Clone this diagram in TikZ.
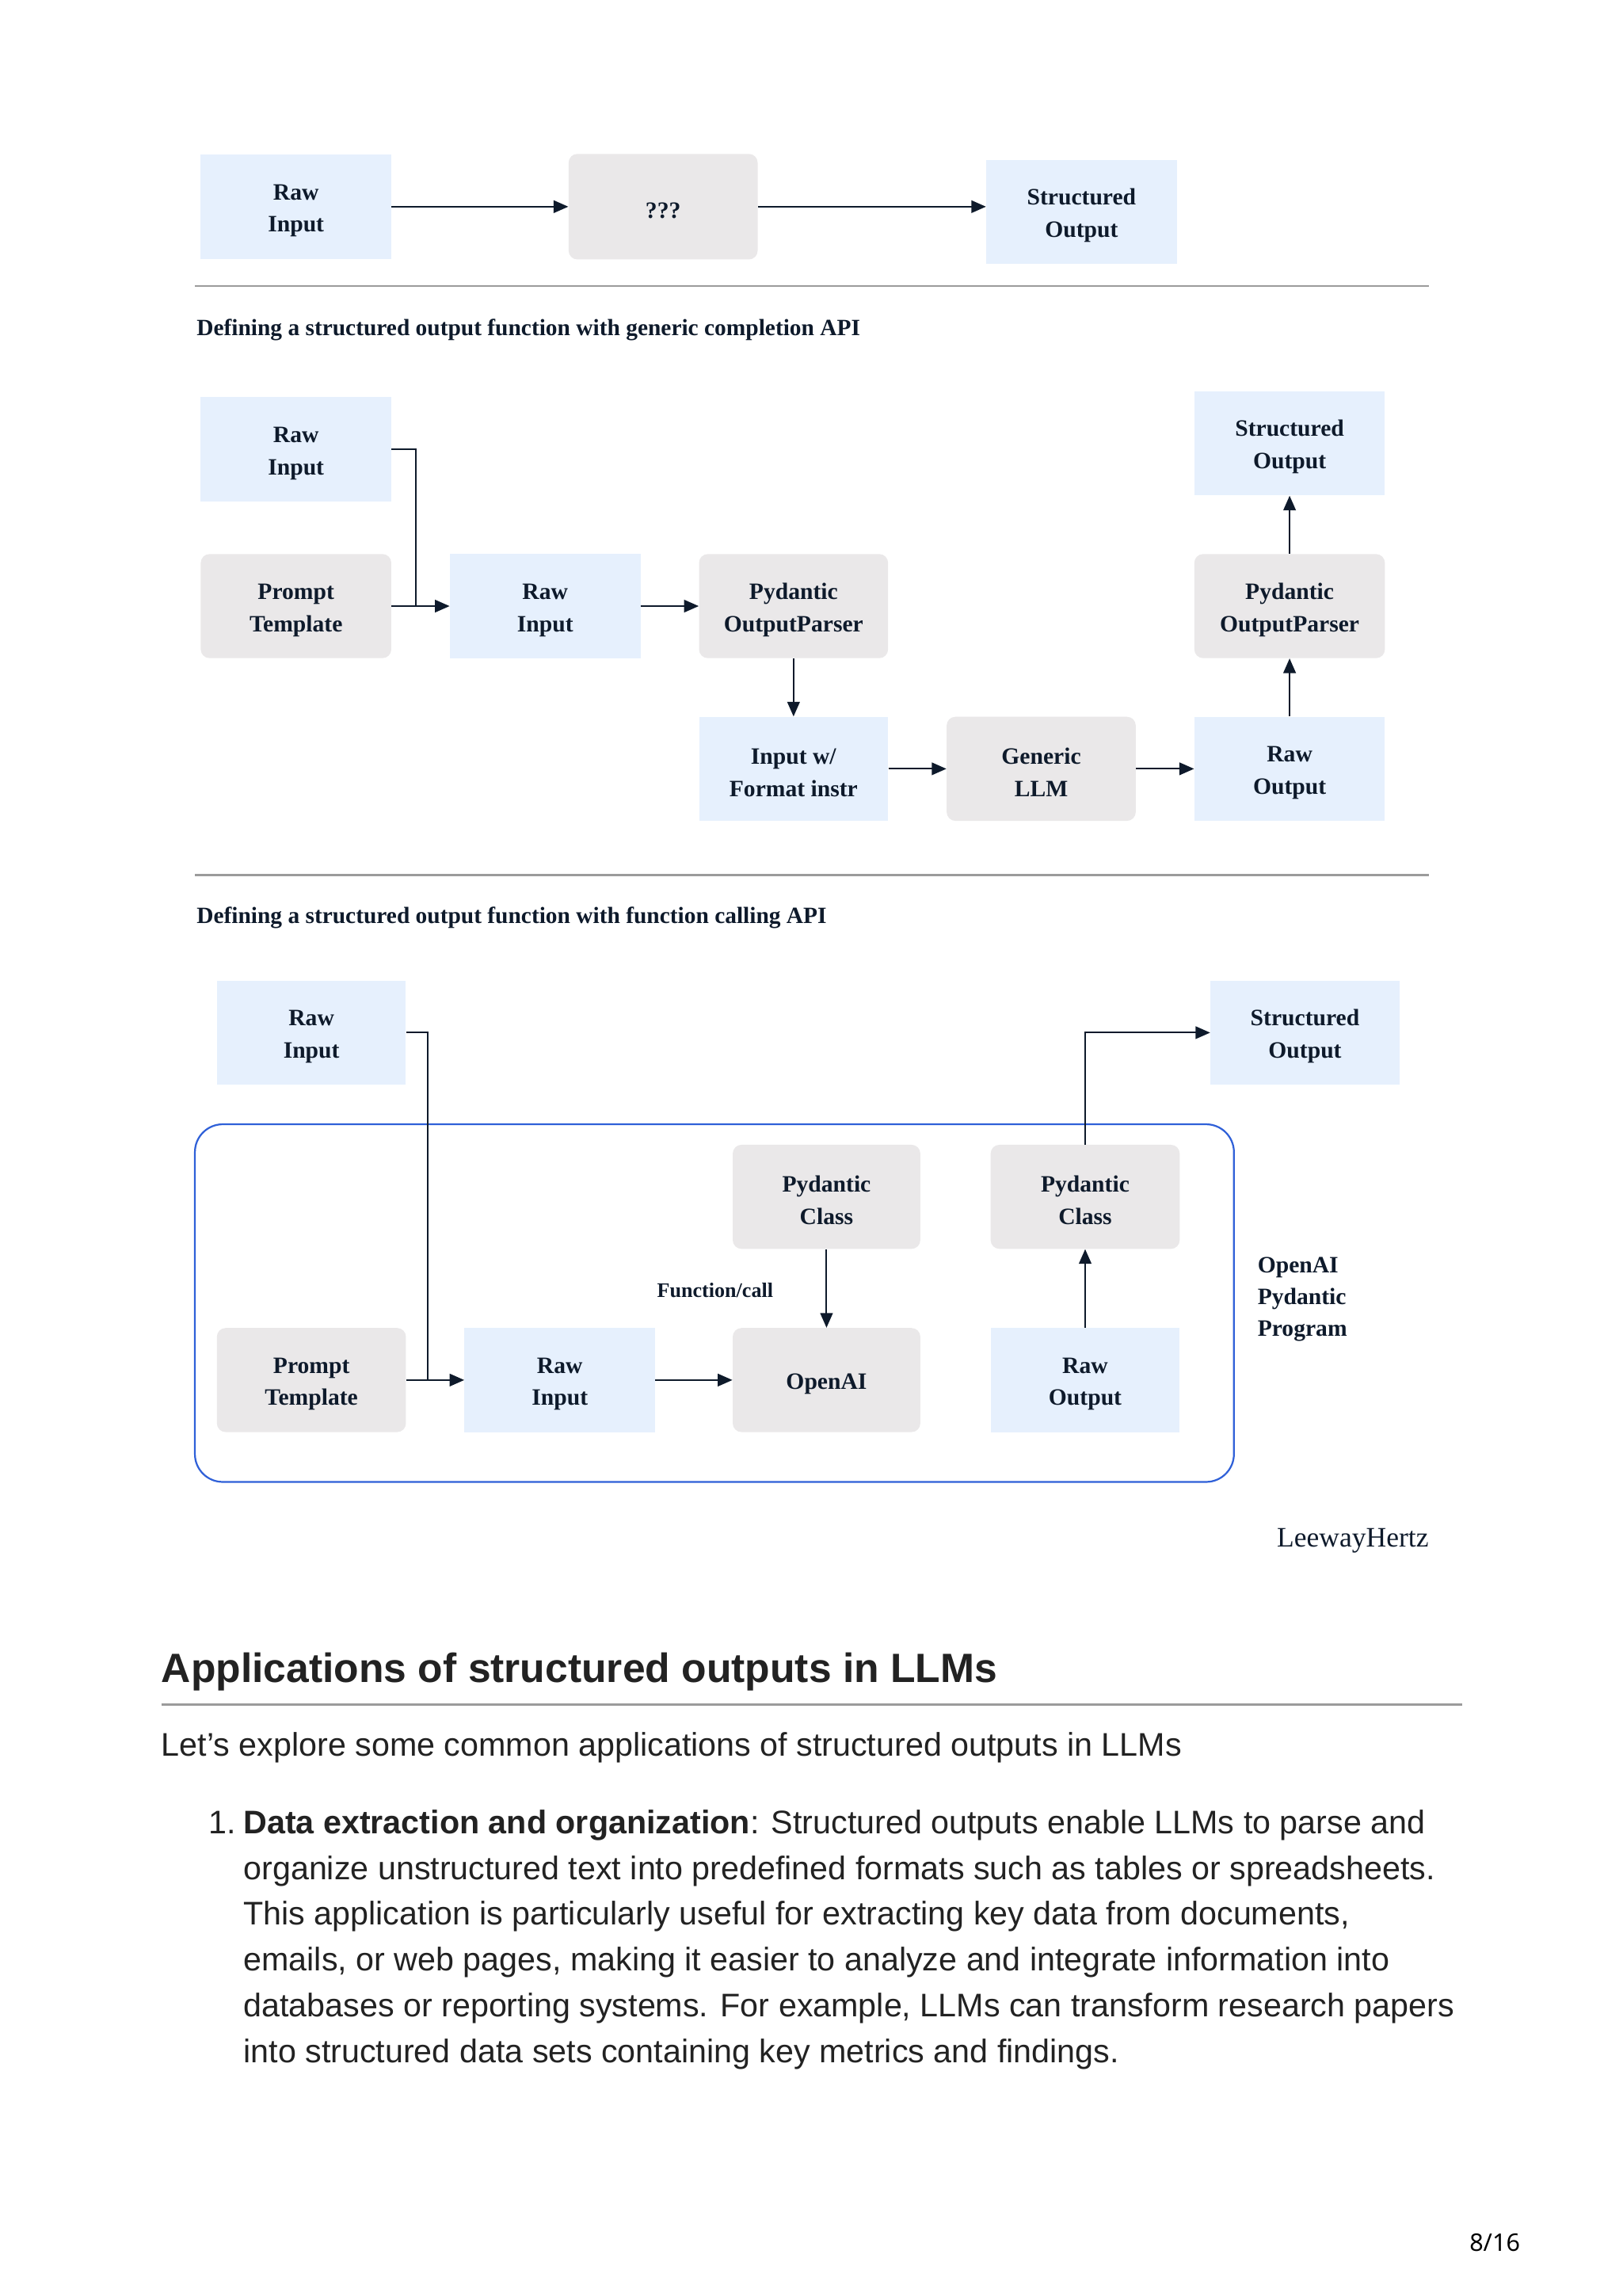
\documentclass[tikz,border=0pt]{standalone}
\usepackage{fontspec}
\setmainfont{Liberation Serif}
\newfontfamily\sansf{Liberation Sans}
\newfontfamily\numf{Noto Sans}
\usetikzlibrary{arrows.meta}
\definecolor{bluefill}{RGB}{230,240,253}
\definecolor{grayfill}{RGB}{234,232,233}
\definecolor{ink}{RGB}{14,26,43}
\definecolor{framblue}{RGB}{47,96,216}
\definecolor{rulegray}{RGB}{155,155,155}
\definecolor{bodyink}{RGB}{34,34,34}
\newcommand{\tp}{\rule{0pt}{16pt}}
\tikzset{
  box/.style={inner sep=0pt, minimum width=130pt, minimum height=71pt, align=center, text=ink,
    font=\bfseries\fontsize{16}{22}\selectfont},
  bbox/.style={box, fill=bluefill},
  gbox/.style={box, fill=grayfill, rounded corners=6pt},
  conn/.style={draw=ink, line width=1.1pt},
  arr/.style={conn, -{Triangle[length=10pt,width=8.5pt]}},
  caption/.style={anchor=west, inner sep=0pt, text=ink, font=\bfseries\fontsize{15.9}{18}\selectfont},
  hrule/.style={draw=rulegray, line width=1.3pt},
  bodytext/.style={anchor=base west, inner sep=0pt, text=bodyink, font=\sansf\fontsize{22.3}{26}\selectfont},
}
\begin{document}
\begin{tikzpicture}[x=1pt, y=-1pt]
\useasboundingbox (0,0) rectangle (1107,1566.4);
\fill[white] (0,0) rectangle (1107,1566.4);

% ---------- Section 1 ----------
\node[bbox] (ri1) at (202,141) {\tp Raw\\Input};
\node[gbox, minimum width=129pt, minimum height=72pt] (q) at (452.5,141) {\tp ???};
\node[bbox] (so1) at (738,144.5) {\tp Structured\\Output};
\draw[arr] (ri1.east) -- (q.west);
\draw[arr] (q.east) -- (q.east -| so1.west);
\draw[hrule] (133,195) -- (975,195);
\node[caption] (cap1) at (134,225) {Defining a structured output function with generic completion API};

% ---------- Section 2 ----------
\node[bbox] (ri2a) at (202,306.5) {\tp Raw\\Input};
\node[gbox] (pt2) at (202,413.5) {\tp Prompt\\Template};
\node[bbox] (ri2b) at (372,413.5) {\tp Raw\\Input};
\node[gbox, minimum width=129pt] (pop2a) at (541.5,413.5) {\tp Pydantic\\OutputParser};
\node[bbox, minimum width=129pt] (iwf) at (541.5,524.5) {\tp Input w/\\Format instr};
\node[gbox, minimum width=129pt] (gl) at (710.5,524.5) {\tp Generic\\LLM};
\node[bbox] (ro2) at (880,524.5) {\tp Raw\\Output};
\node[gbox] (pop2b) at (880,413.5) {\tp Pydantic\\OutputParser};
\node[bbox] (so2) at (880,302.5) {\tp Structured\\Output};
\coordinate (j2) at (284,413.5);
\draw[conn] (ri2a.east) -| (j2);
\draw[arr] (pt2.east) -- (ri2b.west);
\draw[arr] (ri2b.east) -- (pop2a.west);
\draw[arr] (pop2a.south) -- (iwf.north);
\draw[arr] (iwf.east) -- (gl.west);
\draw[arr] (gl.east) -- (ro2.west);
\draw[arr] (ro2.north) -- (pop2b.south);
\draw[arr] (pop2b.north) -- (so2.south);
\draw[hrule] (133,597) -- (975,597);
\node[caption] (cap2) at (134,626) {Defining a structured output function with function calling API};

% ---------- Section 3 ----------
\draw[draw=framblue, line width=1.2pt, rounded corners=19pt] (133,767) rectangle (842,1011);
\node[bbox, minimum width=129pt] (ri3a) at (212.5,704.5) {\tp Raw\\Input};
\node[bbox, minimum width=129pt] (so3) at (890.5,704.5) {\tp Structured\\Output};
\node[gbox, minimum width=128pt] (pc1) at (564,816.5) {\tp Pydantic\\Class};
\node[gbox, minimum width=129pt] (pc2) at (740.5,816.5) {\tp Pydantic\\Class};
\node[gbox, minimum width=129pt] (pt3) at (212.5,941.5) {\tp Prompt\\Template};
\node[bbox] (ri3b) at (382,941.5) {\tp Raw\\Input};
\node[gbox, minimum width=128pt] (oa) at (564,941.5) {\tp OpenAI};
\node[bbox, minimum width=129pt] (ro3) at (740.5,941.5) {\tp Raw\\Output};
\coordinate (j3) at (292,941.5);
\draw[conn] (ri3a.east) -| (j3);
\draw[arr] (pt3.east) -- (ri3b.west);
\draw[arr] (ri3b.east) -- (oa.west);
\draw[arr] (pc1.south) -- (oa.north);
\draw[arr] (ro3.north) -- (pc2.south);
\draw[arr] (pc2.north) |- (so3.west);
\node[inner sep=0pt, text=ink, font=\bfseries\fontsize{14.1}{16}\selectfont] (fc) at (488,880) {Function/call};
\node[anchor=west, inner sep=0pt, align=left, text=ink, font=\bfseries\fontsize{16}{21.5}\selectfont] (oap) at (858,886.5) {OpenAI\\Pydantic\\Program};
\node[anchor=east, inner sep=0pt, text=ink, font=\fontsize{19.2}{22}\selectfont] (lh) at (975,1051) {LeewayHertz};

% ---------- Text ----------
\node[anchor=base west, inner sep=0pt, text=bodyink, font=\sansf\bfseries\fontsize{27.9}{32}\selectfont] (h) at (110,1148) {Applications of structured outputs in LLMs};
\draw[draw=rulegray, line width=1.8pt] (110,1163) -- (998,1163);
\node[bodytext] (intro) at (110,1198) {Let’s explore some common applications of structured outputs in LLMs};
\node[bodytext, anchor=base east] (n1) at (161,1251) {1.};
\node[bodytext] (l1) at (166,1251) {\textbf{Data extraction and organization}: Structured outputs enable LLMs to parse and};
\node[bodytext] (l2) at (166,1282.2) {organize unstructured text into predefined formats such as tables or spreadsheets.};
\node[bodytext] (l3) at (166,1313.4) {This application is particularly useful for extracting key data from documents,};
\node[bodytext] (l4) at (166,1344.6) {emails, or web pages, making it easier to analyze and integrate information into};
\node[bodytext] (l5) at (166,1375.8) {databases or reporting systems. For example, LLMs can transform research papers};
\node[bodytext] (l6) at (166,1407) {into structured data sets containing key metrics and findings.};

\node[inner sep=0pt, text=black, font=\numf\fontsize{16.5}{18}\selectfont] (pg) at (1020,1530) {8/16};
\end{tikzpicture}
\end{document}
